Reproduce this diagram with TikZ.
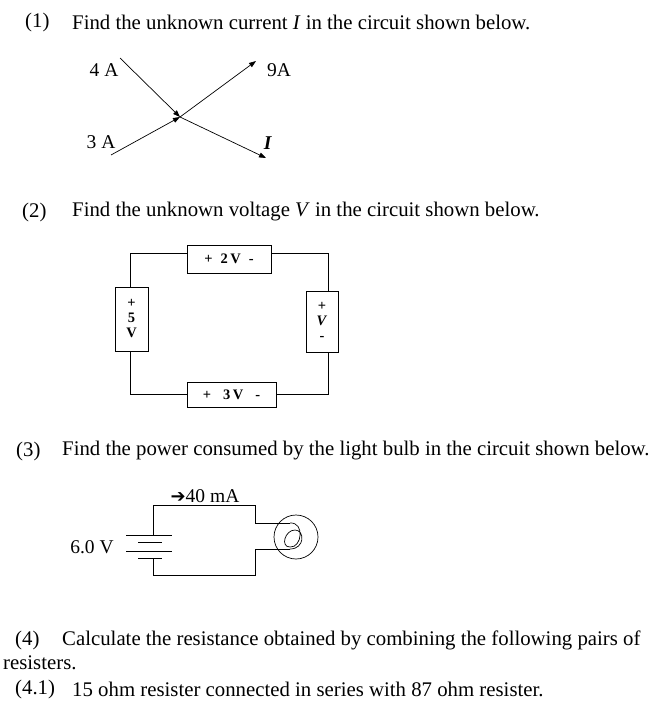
\documentclass[tikz,border=0pt]{standalone}
\usepackage{fontspec}
\setmainfont{Liberation Serif}
\newfontfamily\djv{DejaVu Sans}
\usetikzlibrary{arrows.meta}
\begin{document}
\begin{tikzpicture}[x=1pt,y=-1pt,
  txt/.style={anchor=west,inner sep=0,font=\fontsize{20.8}{24}\selectfont},
  lbl/.style={inner sep=0,font=\fontsize{19.5}{22}\selectfont},
  bx/.style={draw,line width=0.7pt,fill=white,inner sep=0,font=\bfseries\fontsize{14.5}{16}\selectfont},
  wire/.style={line width=0.7pt},
  cur/.style={line width=0.7pt,-{Triangle[length=7pt,width=5pt]}}]
\useasboundingbox (0,0) rectangle (661,725);
% texts
\node[txt] (t1a) at (25,22) {(1)};
\node[txt] (t1) at (72,22) {Find the unknown current \textit{I} in the circuit shown below.};
\node[txt] (t2a) at (22,212) {(2)};
\node[txt] (t2) at (72,212) {Find the unknown voltage \textit{V} in the circuit shown below.};
\node[txt] (t3a) at (16,451) {(3)};
\node[txt] (t3) at (62,451) {Find the power consumed by the light bulb in the circuit shown below.};
\node[txt] (t4a) at (15,640) {(4)};
\node[txt] (t4) at (62,640) {Calculate the resistance obtained by combining the following pairs of};
\node[txt] (t4b) at (3,663) {resisters.};
\node[txt] (t41a) at (15,689) {(4.1)};
\node[txt] (t41) at (72,689) {15 ohm resister connected in series with 87 ohm resister.};
% part 1
\coordinate (c) at (180,117);
\coordinate (p4) at (120,58);
\coordinate (p3) at (111,155);
\coordinate (p9) at (256,61);
\coordinate (pI) at (266,158);
\draw[cur] (p4) -- (c);
\draw[cur] (p3) -- (c);
\draw[cur] (c) -- (p9);
\draw[cur] (c) -- (pI);
\node[lbl] (l4) at (104,70) {4 A};
\node[lbl] (l9) at (279,70) {9A};
\node[lbl] (l3) at (101,142) {3 A};
\node[lbl] (lI) at (268,143) {\textbf{\textit{I}}};
% part 2
\draw[wire] (130,287) |- (187,253) (271,253) -| (328,291);
\draw[wire] (130,351) |- (187,394) (276,394) -| (328,352);
\node[bx,minimum width=84,minimum height=28] (b2) at (229,259) {+\hspace{8pt}2\,V\hspace{8pt}-};
\node[bx,minimum width=89,minimum height=25] (b3) at (231.5,395) {+\hspace{12pt}3\,V\hspace{12pt}-};
\node[bx,minimum width=33,minimum height=64,align=center,font=\bfseries\fontsize{14.5}{15}\selectfont] (b5) at (131.5,319) {+\\5\\V};
\node[bx,minimum width=32,minimum height=61,align=center,font=\bfseries\fontsize{14.5}{15}\selectfont] (bV) at (322,321.5) {+\\\textit{V}\\-};
% part 3
\draw[wire] (153,535) -- (153,505) -- (255,505) -- (255,523) -- (290,523);
\draw[wire] (153,559) -- (153,575) -- (255,575) -- (255,549) -- (290,549);
\draw[wire] (126,535) -- (172,535);
\draw[wire] (138,542) -- (162,542);
\draw[wire] (126,551) -- (172,551);
\draw[wire] (138,558) -- (162,558);
\draw[wire] (296,537) circle (22);
\draw[wire] (290,523) .. controls (305,522) and (302,548) .. (290,547) .. controls (280,547) and (285,530) .. (295,530) .. controls (305,530) and (305,549) .. (290,549);
\node[lbl] (l40) at (205,496) {{\djv\bfseries\fontsize{18}{18}\selectfont ➔}40 mA};
\node[lbl] (l6) at (92,547) {6.0 V};
\end{tikzpicture}
\end{document}
